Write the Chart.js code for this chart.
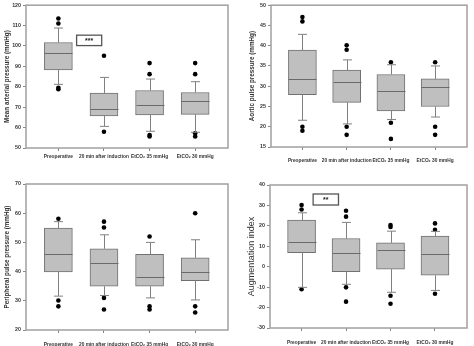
<!DOCTYPE html>
<html>
<head>
<meta charset="utf-8">
<script src="https://cdn.jsdelivr.net/npm/chart.js@4.4.1/dist/chart.umd.min.js"></script>
<style>
body{margin:0;background:#fff;width:474px;height:346px;position:relative;overflow:hidden;font-family:"Liberation Sans",Arial,sans-serif}
.p{position:absolute;width:237px;height:173px}
</style>
</head>
<body>
<div class="p" style="left:0;top:0"><canvas id="c1"></canvas></div>
<div class="p" style="left:237px;top:0"><canvas id="c2"></canvas></div>
<div class="p" style="left:0;top:173px"><canvas id="c3"></canvas></div>
<div class="p" style="left:237px;top:173px"><canvas id="c4"></canvas></div>
<script>
const categories = ["Preoperative", "20 min after induction", "EtCO\u2082 35 mmHg", "EtCO\u2082 30 mmHg"];

// mean arterial pressure
const mapLow = [81.2, 60.6, 58.2, 57.7];
const mapQ1 = [88.3, 65.7, 66.2, 66.5];
const mapMed = [96.6, 68.9, 71.3, 73.0];
const mapQ3 = [101.7, 76.9, 78.2, 77.2];
const mapHigh = [108.8, 84.6, 83.8, 82.5];
const mapOut = [[113.5, 111, 79.5, 78.8], [95.2, 58], [91.6, 86.2, 56.4, 55.6], [91.6, 86.2, 57.2, 55.6]];
const mapTicks = [50, 60, 70, 80, 90, 100, 110, 120];

// aortic pulse pressure
const aoLow = [21.6, 20.7, 21.8, 22.4];
const aoQ1 = [27.9, 26.0, 23.9, 25.0];
const aoMed = [31.8, 31.0, 28.9, 29.9];
const aoQ3 = [38.9, 34.0, 32.9, 31.8];
const aoHigh = [42.8, 36.5, 35.3, 35.0];
const aoOut = [[47.1, 46, 20, 19], [40.1, 39, 20, 18], [35.9, 21, 17], [35.9, 20, 18]];
const aoTicks = [15, 20, 25, 30, 35, 40, 45, 50];

// peripheral pulse pressure
const ppLow = [31.6, 31.8, 31.0, 30.3];
const ppQ1 = [39.9, 35.0, 35.0, 36.9];
const ppMed = [45.9, 43.1, 38.0, 39.9];
const ppQ3 = [54.9, 47.8, 45.9, 44.7];
const ppHigh = [57.1, 52.6, 50.0, 50.9];
const ppOut = [[58.1, 30.1, 28.1], [57.1, 55.1, 31, 27], [52, 28.1, 27], [60, 28.1, 26]];
const ppTicks = [20, 30, 40, 50, 60, 70];

// augmentation index
const aiLow = [-10.1, -8.6, -12.5, -11.6];
const aiQ1 = [6.9, -2.4, -1.2, -4.2];
const aiMed = [12.0, 6.8, 8.1, 6.0];
const aiQ3 = [22.8, 13.8, 11.7, 15.0];
const aiHigh = [26.4, 21.7, 17.4, 17.3];
const aiOut = [[30.2, 28, -11], [27.4, 24.5, -10.1, -17.1], [20.4, 19.5, -14.2, -18.1], [21.2, 18.1, -13.2]];
const aiTicks = [-30, -20, -10, 0, 10, 20, 30, 40];

const boxPlugin = {
    id: "boxplot",
    afterDatasetsDraw(chart, args, opts) {
        const ctx = chart.ctx;
        const x = chart.scales.x, y = chart.scales.y;
        ctx.save();
        ctx.lineWidth = 1;
        opts.low.forEach((lo, i) => {
            const cx = Math.round(x.getPixelForValue(i)) + 0.5;
            const yLo = y.getPixelForValue(lo), yHi = y.getPixelForValue(opts.high[i]);
            ctx.strokeStyle = "#808080";
            ctx.beginPath();
            ctx.moveTo(cx, y.getPixelForValue(opts.q1[i]));
            ctx.lineTo(cx, yLo);
            ctx.moveTo(cx - 4.5, yLo); ctx.lineTo(cx + 4.5, yLo);
            ctx.moveTo(cx, y.getPixelForValue(opts.q3[i]));
            ctx.lineTo(cx, yHi);
            ctx.moveTo(cx - 4.5, yHi); ctx.lineTo(cx + 4.5, yHi);
            ctx.stroke();
            const ym = Math.round(y.getPixelForValue(opts.med[i])) + 0.5;
            ctx.strokeStyle = "#6a6a6a";
            ctx.beginPath();
            ctx.moveTo(cx - 14, ym); ctx.lineTo(cx + 14, ym);
            ctx.stroke();
        });
        if (opts.note) {
            const n = opts.note;
            const x0 = x.getPixelForValue(n.x0), x1 = x.getPixelForValue(n.x1);
            const y0 = y.getPixelForValue(n.y1), y1 = y.getPixelForValue(n.y0);
            ctx.fillStyle = "#fff";
            ctx.fillRect(x0, y0, x1 - x0, y1 - y0);
            ctx.strokeStyle = "#555";
            ctx.lineWidth = 1.3;
            ctx.strokeRect(x0, y0, x1 - x0, y1 - y0);
            ctx.fillStyle = "#222";
            ctx.font = "bold 7px 'Liberation Sans', Arial";
            ctx.textAlign = "center";
            ctx.textBaseline = "middle";
            ctx.fillText(n.text, (x0 + x1) / 2, (y0 + y1) / 2 + 1);
        }
        ctx.restore();
    },
    afterDraw(chart) {
        const a = chart.chartArea, ctx = chart.ctx;
        ctx.save();
        ctx.strokeStyle = "#a0a0a0";
        ctx.lineWidth = 1.5;
        ctx.strokeRect(a.left, a.top, a.right - a.left, a.bottom - a.top);
        ctx.restore();
    }
};

function makePanel(id, cfg) {
    const outliers = [];
    cfg.out.forEach((vals, i) => vals.forEach(v => outliers.push({x: i, y: v})));
    const boxes = cfg.q1.map((q, i) => ({x: i, y: [q, cfg.q3[i]]}));

    return new Chart(document.getElementById(id), {
        type: "bar",
        data: {
            datasets: [{
                data: boxes,
                backgroundColor: "#bfbfbf",
                borderColor: "#707070",
                borderWidth: 1,
                borderSkipped: false,
                barThickness: 28
            }, {
                type: "scatter",
                data: outliers,
                pointRadius: 2.3,
                pointBackgroundColor: "#000",
                pointBorderWidth: 0
            }]
        },
        options: {
            responsive: true,
            maintainAspectRatio: false,
            animation: false,
            events: [],
            layout: {padding: cfg.padding},
            plugins: {
                legend: {display: false},
                tooltip: {enabled: false},
                boxplot: {low: cfg.low, q1: cfg.q1, med: cfg.med, q3: cfg.q3, high: cfg.high, note: cfg.note}
            },
            scales: {
                x: {
                    type: "linear",
                    offset: false,
                    min: -0.71,
                    max: 3.72,
                    afterBuildTicks: s => { s.ticks = categories.map((c, i) => ({value: i})); },
                    afterFit: s => { s.height = cfg.xHeight; },
                    grid: {drawOnChartArea: false, offset: false, tickLength: 3, tickColor: "#888"},
                    border: {display: false},
                    ticks: {
                        autoSkip: false, maxRotation: 0, minRotation: 0, padding: cfg.labelPad,
                        color: "#333",
                        font: {family: "'Liberation Sans', Arial", size: 4.8, weight: "bold"},
                        callback: v => categories[v]
                    }
                },
                y: {
                    min: cfg.ticks[0],
                    max: cfg.ticks[cfg.ticks.length - 1],
                    afterBuildTicks: s => { s.ticks = cfg.ticks.map(v => ({value: v})); },
                    afterFit: s => { s.width = cfg.yWidth; },
                    grid: {drawOnChartArea: false, tickLength: 3, tickColor: "#888"},
                    border: {display: false},
                    ticks: {
                        padding: 2, color: "#333",
                        font: {family: "'Liberation Sans', Arial", size: 5.3, weight: "bold"}
                    },
                    title: {
                        display: true, text: cfg.title, color: "#333",
                        padding: {top: cfg.titlePad, bottom: 0},
                        font: cfg.titleFont
                    }
                }
            }
        },
        plugins: [boxPlugin]
    });
}

const smallTitle = {family: "'Liberation Sans', Arial", size: 6.3, weight: "bold"};

makePanel("c1", {
    low: mapLow, q1: mapQ1, med: mapMed, q3: mapQ3, high: mapHigh, out: mapOut, ticks: mapTicks,
    title: "Mean arterial pressure (mmHg)", titleFont: smallTitle, titlePad: 3,
    yWidth: 26, xHeight: 25, labelPad: 3, padding: {left: 0, right: 9, top: 3, bottom: 0},
    note: {x0: 0.40, x1: 0.95, y0: 100.2, y1: 105.3, text: "***"}
});
makePanel("c2", {
    low: aoLow, q1: aoQ1, med: aoMed, q3: aoQ3, high: aoHigh, out: aoOut, ticks: aoTicks,
    title: "Aortic pulse pressure (mmHg)", titleFont: smallTitle, titlePad: 3,
    yWidth: 26, xHeight: 26, labelPad: 8, padding: {left: 8, right: 7, top: 3, bottom: 0}
});
makePanel("c3", {
    low: ppLow, q1: ppQ1, med: ppMed, q3: ppQ3, high: ppHigh, out: ppOut, ticks: ppTicks,
    title: "Peripheral pulse pressure (mmHg)", titleFont: smallTitle, titlePad: 3,
    yWidth: 26, xHeight: 16, labelPad: 9, padding: {left: 0, right: 9, top: 11, bottom: 0}
});
makePanel("c4", {
    low: aiLow, q1: aiQ1, med: aiMed, q3: aiQ3, high: aiHigh, out: aiOut, ticks: aiTicks,
    title: "Augmentation index", titleFont: {family: "'Liberation Sans', Arial", size: 9}, titlePad: 2,
    yWidth: 26, xHeight: 18, labelPad: 9, padding: {left: 7, right: 7, top: 12, bottom: 0},
    note: {x0: 0.26, x1: 0.83, y0: 30.2, y1: 35.6, text: "**"}
});
</script>
</body>
</html>
